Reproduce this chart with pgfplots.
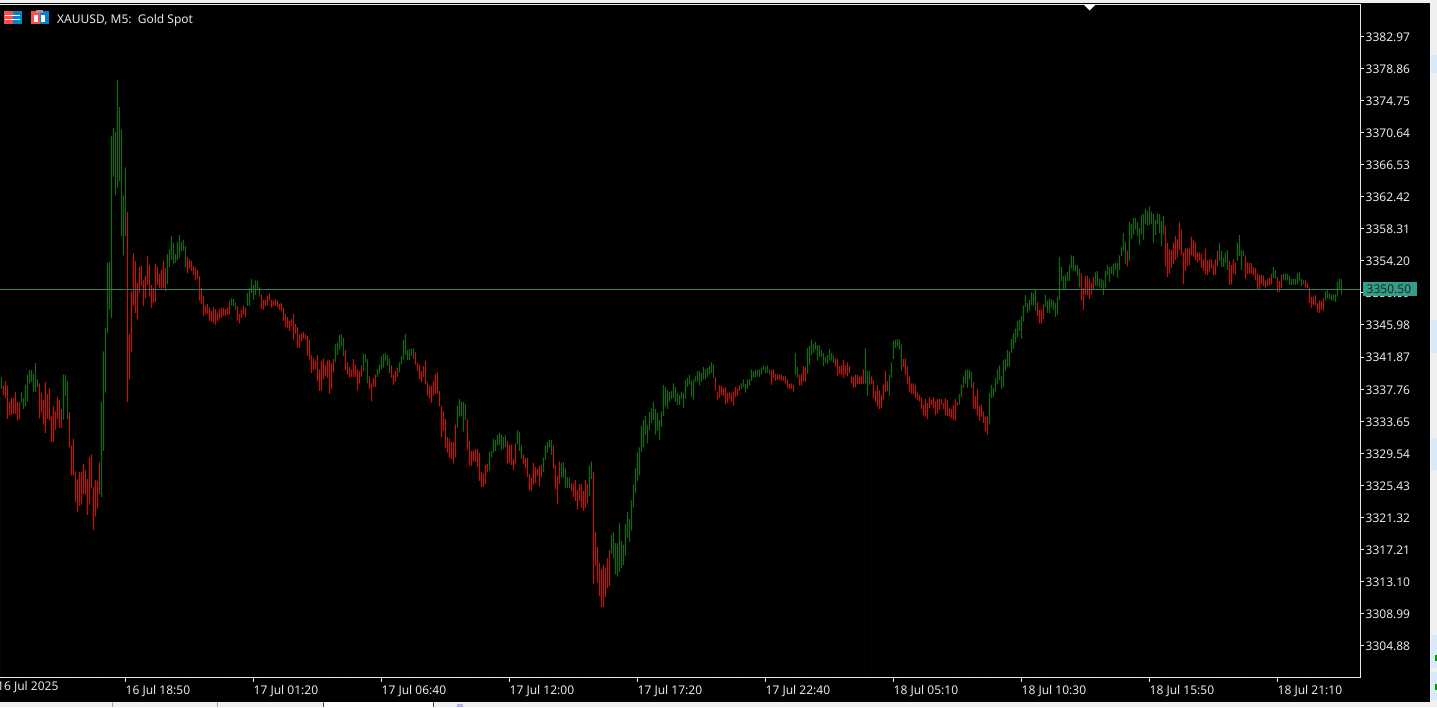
\documentclass[border=0pt]{standalone}
\usepackage{fontspec}
\setmainfont{Noto Sans}
\usepackage{pgfplots}
\usepackage{pgfplotstable}
\pgfplotsset{compat=1.18}
\definecolor{upbar}{RGB}{8,112,8}
\definecolor{downbar}{RGB}{204,14,14}
\definecolor{bidline}{RGB}{48,158,136}
\definecolor{bidthin}{RGB}{38,128,108}
\definecolor{axisgrey}{RGB}{232,232,232}
\definecolor{chrome}{RGB}{240,240,240}
\definecolor{btn}{RGB}{214,234,250}
\newcommand{\chartfont}{\fontsize{12}{14}\selectfont}

% bars: index, low, high
\pgfplotstableread{
x low high
0 3337.8 3339.3
10 3336.0 3337.4
11 3335.2 3336.6
12 3335.5 3338.3
13 3336.2 3339.6
14 3338.5 3340.2
15 3338.7 3340.2
16 3337.4 3339.7
17 3337.4 3341.1
18 3338.0 3339.0
31 3333.8 3339.6
32 3336.9 3339.6
33 3333.9 3338.8
50 3323.9 3336.1
51 3329.8 3342.6
52 3337.3 3345.6
53 3344.9 3353.9
54 3347.9 3354.1
55 3346.9 3370.2
56 3365.0 3371.2
57 3362.6 3370.7
58 3363.5 3377.4
59 3364.4 3373.9
60 3357.4 3371.0
61 3354.9 3362.6
62 3357.4 3366.2
83 3351.2 3355.1
84 3353.4 3355.7
85 3354.3 3357.4
86 3353.8 3356.5
87 3353.9 3355.1
88 3354.3 3356.6
89 3354.6 3357.5
90 3355.5 3356.7
91 3355.5 3356.9
92 3353.4 3356.1
115 3348.5 3349.4
116 3348.4 3349.3
117 3347.9 3348.8
123 3348.4 3350.1
124 3348.4 3350.7
125 3350.1 3351.9
126 3349.2 3351.1
127 3349.8 3351.7
128 3350.6 3351.6
129 3349.6 3350.8
167 3341.2 3343.5
168 3342.1 3343.7
169 3342.8 3344.7
170 3343.2 3344.8
171 3342.0 3344.3
181 3340.1 3342.3
182 3341.2 3342.3
183 3338.5 3341.6
188 3339.3 3340.3
189 3339.7 3340.9
190 3340.3 3342.0
191 3340.5 3342.3
192 3341.4 3342.4
193 3340.7 3342.1
194 3339.8 3341.7
199 3339.9 3341.2
200 3340.9 3342.0
201 3341.5 3344.1
202 3342.1 3344.8
203 3341.5 3342.8
204 3341.5 3342.9
205 3342.0 3342.9
206 3341.6 3343.0
228 3332.8 3335.6
229 3334.2 3336.5
230 3334.3 3336.2
231 3332.3 3336.1
232 3333.8 3335.9
244 3327.3 3329.7
245 3329.0 3329.8
246 3329.6 3331.4
247 3329.8 3331.2
248 3330.5 3331.9
249 3330.6 3332.1
250 3329.9 3331.9
251 3330.1 3331.6
252 3330.3 3331.9
258 3330.7 3332.5
259 3329.8 3332.3
260 3328.8 3330.6
271 3327.1 3329.0
272 3328.7 3330.5
273 3329.6 3331.0
274 3330.3 3331.2
275 3329.3 3331.2
280 3326.4 3328.3
281 3326.4 3328.4
282 3325.1 3327.6
283 3325.1 3326.5
284 3325.1 3326.4
294 3324.0 3327.9
295 3326.2 3328.5
305 3316.6 3319.1
306 3316.0 3319.4
307 3314.0 3318.0
308 3313.7 3318.0
309 3314.3 3320.6
310 3314.8 3318.3
311 3315.2 3317.8
312 3316.4 3320.5
313 3318.7 3322.0
314 3318.2 3321.1
315 3319.6 3323.5
316 3322.6 3325.5
317 3324.4 3327.6
318 3326.0 3329.6
319 3326.7 3330.3
320 3329.7 3333.0
321 3330.3 3333.8
322 3331.9 3334.3
323 3330.8 3333.2
324 3332.5 3334.8
325 3333.4 3335.3
326 3333.8 3336.1
327 3331.9 3335.2
328 3332.4 3334.7
329 3331.2 3333.8
330 3332.9 3334.9
331 3334.3 3338.3
332 3335.5 3338.0
333 3335.2 3337.6
334 3336.1 3337.4
335 3336.5 3337.5
336 3336.6 3338.5
337 3336.1 3338.0
338 3335.7 3337.3
339 3335.7 3337.0
340 3336.5 3337.4
341 3335.3 3337.3
342 3336.5 3338.9
343 3338.0 3339.2
344 3338.3 3339.6
345 3336.7 3338.8
346 3336.4 3339.0
347 3338.7 3339.4
348 3338.7 3340.1
349 3338.2 3340.1
350 3338.7 3339.8
351 3339.0 3340.6
352 3339.0 3340.3
353 3339.3 3340.5
354 3339.6 3340.7
355 3339.8 3341.2
356 3339.2 3340.9
370 3337.8 3338.5
371 3338.0 3339.0
372 3337.3 3338.4
373 3337.8 3339.0
374 3338.2 3339.0
375 3338.8 3340.3
376 3339.2 3340.0
377 3339.3 3340.2
378 3339.4 3340.2
379 3339.3 3340.3
380 3339.6 3340.5
381 3340.2 3340.8
382 3339.8 3340.6
383 3339.8 3340.8
384 3339.7 3340.3
397 3339.6 3342.4
398 3339.2 3340.6
403 3339.7 3343.0
404 3340.8 3343.3
405 3342.1 3344.1
406 3342.4 3343.5
407 3342.8 3343.8
408 3341.4 3343.4
409 3341.9 3343.4
410 3341.9 3342.8
411 3340.7 3342.4
412 3341.2 3341.9
413 3341.0 3342.1
414 3341.4 3342.9
415 3341.4 3342.4
416 3341.1 3342.1
432 3338.5 3343.0
433 3336.9 3340.1
434 3338.3 3340.1
444 3336.9 3339.6
445 3339.2 3341.2
446 3341.6 3343.9
447 3343.0 3344.1
448 3343.2 3344.2
449 3342.8 3344.1
450 3340.1 3343.5
479 3335.8 3337.1
480 3336.7 3338.3
481 3337.9 3339.4
482 3338.5 3340.2
483 3337.9 3340.3
484 3339.0 3340.2
485 3337.9 3340.0
494 3333.2 3337.3
495 3336.6 3338.3
496 3336.7 3337.9
497 3337.4 3339.2
498 3338.4 3340.3
499 3338.9 3340.8
500 3337.8 3339.4
501 3338.0 3341.5
502 3340.1 3341.6
503 3340.6 3342.8
504 3340.7 3342.6
505 3342.4 3344.2
506 3342.9 3344.9
507 3343.7 3345.5
508 3344.4 3346.5
509 3345.2 3346.6
510 3344.2 3347.1
511 3346.4 3348.5
512 3348.3 3349.8
513 3347.5 3348.8
514 3347.8 3349.2
515 3348.5 3350.2
516 3348.5 3350.1
517 3347.8 3350.6
522 3348.3 3349.8
523 3347.5 3349.1
524 3347.5 3349.3
525 3348.2 3349.3
526 3347.9 3349.1
527 3347.0 3348.8
528 3347.3 3349.6
529 3349.2 3354.7
530 3351.6 3353.4
531 3350.5 3352.3
532 3350.5 3352.4
533 3351.6 3352.8
534 3351.6 3353.7
535 3353.2 3354.9
536 3352.9 3354.8
537 3352.8 3353.7
538 3352.3 3353.7
539 3350.8 3353.2
547 3351.0 3352.8
548 3351.0 3352.9
549 3350.8 3351.9
550 3350.7 3351.9
551 3349.8 3351.7
552 3350.7 3352.9
553 3352.4 3353.7
554 3351.5 3353.4
555 3352.5 3353.5
556 3352.3 3353.8
557 3353.0 3353.9
558 3352.0 3353.9
559 3353.0 3354.9
560 3354.8 3356.0
561 3355.5 3357.8
562 3353.8 3356.6
564 3354.2 3359.2
565 3357.0 3358.9
566 3357.5 3359.7
567 3358.2 3359.7
568 3357.4 3359.2
569 3356.2 3358.4
570 3357.6 3360.1
571 3356.9 3360.2
572 3358.9 3360.9
573 3358.7 3360.6
574 3358.8 3361.2
575 3358.9 3360.5
576 3356.5 3360.2
577 3357.5 3359.4
578 3358.9 3360.3
579 3357.8 3360.2
580 3356.1 3359.3
581 3357.6 3360.0
609 3354.2 3356.5
610 3353.4 3355.5
611 3353.4 3354.6
612 3353.9 3355.3
613 3353.0 3355.6
618 3354.2 3356.5
619 3354.8 3357.5
620 3353.0 3355.6
621 3354.8 3355.5
636 3352.0 3353.4
637 3351.9 3353.0
641 3351.7 3352.5
642 3351.7 3352.6
643 3351.7 3352.5
644 3351.1 3352.3
645 3351.1 3351.9
646 3351.2 3351.9
647 3351.1 3351.9
648 3351.2 3352.6
649 3351.6 3352.8
650 3351.0 3351.9
651 3351.2 3351.7
662 3349.1 3350.3
663 3349.4 3350.6
664 3349.3 3350.1
665 3349.1 3349.9
666 3349.1 3349.9
667 3348.9 3349.9
668 3349.6 3351.5
669 3350.5 3351.9
670 3349.9 3351.9
}\upbars

\pgfplotstableread{
x low high
1 3337.0 3338.2
2 3336.6 3338.8
3 3333.9 3338.2
4 3334.4 3336.1
5 3334.4 3336.7
6 3334.6 3336.6
7 3334.6 3337.4
8 3333.7 3336.1
9 3333.9 3336.1
19 3334.0 3338.5
20 3334.7 3337.3
21 3333.2 3336.4
22 3332.1 3338.7
23 3333.9 3337.1
24 3333.7 3337.9
25 3331.0 3334.3
26 3331.0 3335.6
27 3332.5 3334.9
28 3333.9 3336.7
29 3332.8 3336.4
30 3332.8 3335.2
34 3330.3 3334.8
35 3326.7 3330.5
36 3326.7 3331.4
37 3323.3 3327.2
38 3322.0 3326.2
39 3322.8 3327.1
40 3322.9 3327.1
41 3324.3 3328.2
42 3324.2 3327.4
43 3321.6 3326.2
44 3322.9 3329.0
45 3325.1 3329.4
46 3319.7 3325.2
47 3321.4 3326.1
48 3322.4 3326.0
49 3324.3 3328.4
63 3336.1 3360.5
64 3339.0 3344.8
65 3342.5 3350.3
66 3348.4 3355.2
67 3347.5 3354.2
68 3346.7 3351.4
69 3350.1 3353.4
70 3351.0 3353.6
71 3348.4 3351.7
72 3349.4 3352.3
73 3351.1 3354.8
74 3349.6 3353.7
75 3348.2 3351.1
76 3348.8 3350.7
77 3348.9 3353.8
78 3351.1 3353.5
79 3350.7 3352.5
80 3350.6 3353.0
81 3350.7 3354.2
82 3350.3 3353.3
93 3352.6 3354.7
94 3353.2 3354.4
95 3352.9 3354.2
96 3352.4 3353.5
97 3351.7 3353.3
98 3351.9 3353.0
99 3349.1 3352.3
100 3348.7 3350.7
101 3347.1 3349.7
102 3347.3 3348.4
103 3347.4 3348.7
104 3346.5 3348.2
105 3346.4 3347.8
106 3346.2 3348.3
107 3346.0 3348.0
108 3346.4 3347.6
109 3346.7 3348.0
110 3346.9 3348.2
111 3347.1 3348.2
112 3347.1 3348.0
113 3347.3 3348.2
114 3347.3 3349.1
118 3346.5 3348.4
119 3346.2 3347.4
120 3346.9 3347.9
121 3347.3 3348.5
122 3347.0 3348.2
130 3348.0 3349.9
131 3347.9 3349.2
132 3348.4 3349.2
133 3348.5 3349.7
134 3349.1 3350.1
135 3348.2 3349.2
136 3348.4 3349.1
137 3348.4 3349.3
138 3348.2 3349.1
139 3347.9 3348.7
140 3347.8 3348.8
141 3346.5 3348.2
142 3345.7 3347.4
143 3345.6 3347.0
144 3345.2 3346.5
145 3345.8 3346.7
146 3344.1 3347.4
147 3344.8 3346.1
148 3343.0 3345.7
149 3343.0 3344.7
150 3343.8 3344.9
151 3344.2 3345.1
152 3344.1 3344.8
153 3342.0 3344.6
154 3341.5 3344.1
155 3339.8 3342.1
156 3340.2 3341.7
157 3340.3 3341.4
158 3338.8 3342.1
159 3337.5 3340.3
160 3337.6 3341.4
161 3339.0 3341.7
162 3339.4 3340.8
163 3339.2 3341.4
164 3337.1 3341.5
165 3337.8 3341.1
166 3339.9 3341.6
172 3340.2 3342.8
173 3339.6 3341.2
174 3339.2 3340.6
175 3339.3 3340.3
176 3339.3 3341.6
177 3339.3 3340.9
178 3337.6 3340.3
179 3338.5 3340.1
180 3339.3 3340.8
184 3337.8 3339.4
185 3336.2 3338.5
186 3338.0 3339.2
187 3338.0 3339.6
195 3339.2 3340.8
196 3338.3 3339.6
197 3338.7 3340.1
198 3339.3 3340.5
207 3340.9 3342.5
208 3340.1 3341.2
209 3339.0 3340.9
210 3338.7 3340.1
211 3339.3 3340.7
212 3338.4 3341.4
213 3336.9 3338.7
214 3336.6 3338.2
215 3336.0 3338.2
216 3336.9 3338.8
217 3337.1 3339.7
218 3337.1 3339.9
219 3335.5 3337.5
220 3331.6 3335.6
221 3332.4 3334.9
222 3330.2 3333.9
223 3329.6 3331.6
224 3328.9 3331.4
225 3328.8 3331.0
226 3328.2 3331.0
227 3329.0 3333.2
233 3329.9 3333.9
234 3327.9 3331.1
235 3327.9 3329.8
236 3328.5 3329.8
237 3328.4 3330.1
238 3327.8 3330.1
239 3326.0 3329.6
240 3325.2 3327.1
241 3325.2 3326.9
242 3325.6 3328.0
243 3327.1 3328.2
253 3328.2 3331.1
254 3328.3 3330.6
255 3328.0 3330.6
256 3327.4 3328.8
257 3328.2 3330.8
261 3328.2 3329.4
262 3327.6 3328.9
263 3326.5 3328.9
264 3324.8 3326.9
265 3324.7 3326.4
266 3325.5 3328.3
267 3325.7 3327.8
268 3326.6 3327.5
269 3325.3 3327.9
270 3326.5 3328.0
276 3327.5 3330.5
277 3324.9 3328.0
278 3323.0 3326.7
279 3325.6 3328.5
285 3324.7 3325.7
286 3323.9 3325.6
287 3323.4 3326.1
288 3322.3 3324.8
289 3323.4 3325.6
290 3322.5 3325.6
291 3322.1 3324.7
292 3322.5 3326.1
293 3323.1 3325.6
296 3312.8 3327.1
297 3315.1 3319.4
298 3312.9 3317.5
299 3311.2 3315.5
300 3309.8 3314.6
301 3309.8 3315.2
302 3311.1 3314.9
303 3312.2 3316.1
304 3312.5 3317.1
357 3337.6 3339.3
358 3336.4 3337.4
359 3336.6 3338.3
360 3337.0 3338.2
361 3336.9 3337.9
362 3335.8 3338.0
363 3336.0 3337.3
364 3336.5 3337.3
365 3336.1 3337.3
366 3335.6 3337.4
367 3336.7 3338.0
368 3336.9 3337.9
369 3337.5 3338.3
385 3338.3 3340.2
386 3339.2 3340.3
387 3338.8 3339.7
388 3338.9 3339.7
389 3339.0 3339.6
390 3338.8 3339.6
391 3338.8 3339.4
392 3338.5 3339.4
393 3337.9 3339.0
394 3337.8 3338.4
395 3337.8 3338.5
396 3337.4 3338.3
399 3338.2 3339.6
400 3338.2 3339.7
401 3338.8 3340.7
402 3338.7 3340.6
417 3340.7 3341.7
418 3339.4 3341.6
419 3339.7 3340.7
420 3339.6 3340.8
421 3339.2 3341.5
422 3339.6 3340.8
423 3339.4 3341.2
424 3339.8 3340.7
425 3338.5 3339.4
426 3337.9 3339.3
427 3338.0 3339.6
428 3338.4 3339.6
429 3338.4 3339.3
430 3338.4 3339.4
431 3338.4 3340.3
435 3338.4 3339.4
436 3336.6 3338.9
437 3336.1 3337.5
438 3335.5 3338.3
439 3335.2 3337.6
440 3335.3 3337.0
441 3336.4 3338.3
442 3337.4 3340.1
443 3337.5 3338.8
451 3340.6 3341.6
452 3339.6 3341.7
453 3338.4 3340.7
454 3337.4 3339.4
455 3337.1 3338.5
456 3337.1 3338.5
457 3336.6 3338.3
458 3336.4 3337.3
459 3336.2 3337.0
460 3335.2 3336.7
461 3334.4 3335.7
462 3334.2 3336.5
463 3333.9 3336.0
464 3335.3 3336.7
465 3335.7 3336.4
466 3335.3 3336.7
467 3334.4 3336.2
468 3334.6 3336.5
469 3335.2 3336.5
470 3335.8 3336.5
471 3335.2 3336.0
472 3334.4 3336.6
473 3334.3 3336.4
474 3334.2 3335.3
475 3334.0 3335.2
476 3333.8 3335.7
477 3333.7 3336.5
478 3335.6 3336.1
486 3335.2 3338.7
487 3335.2 3336.9
488 3334.4 3337.8
489 3333.7 3335.6
490 3334.2 3335.8
491 3333.4 3334.9
492 3332.3 3334.2
493 3331.9 3334.3
518 3347.1 3348.9
519 3346.2 3347.9
520 3346.2 3347.9
521 3346.7 3348.7
540 3349.1 3352.6
541 3347.9 3350.7
542 3349.9 3352.3
543 3349.8 3352.3
544 3349.3 3351.9
545 3349.9 3351.4
546 3350.5 3352.1
563 3353.5 3355.5
582 3353.5 3358.7
583 3352.1 3356.5
584 3352.5 3355.7
585 3353.3 3355.6
586 3353.8 3356.5
587 3354.3 3357.4
588 3354.6 3357.0
589 3355.6 3359.2
590 3354.9 3358.2
591 3351.2 3355.3
592 3352.9 3355.8
593 3353.5 3355.8
594 3353.7 3355.8
595 3354.9 3357.3
596 3354.7 3356.9
597 3354.3 3356.6
598 3354.0 3355.3
599 3354.2 3355.3
600 3353.3 3355.1
601 3352.9 3354.4
602 3352.5 3355.8
603 3352.4 3354.3
604 3352.8 3354.4
605 3353.2 3354.4
606 3352.4 3353.7
607 3352.4 3354.4
608 3353.5 3355.5
614 3351.1 3354.2
615 3351.2 3353.7
616 3352.6 3354.4
617 3352.4 3354.0
622 3351.9 3354.9
623 3352.5 3354.0
624 3352.5 3353.9
625 3352.5 3353.9
626 3352.3 3353.4
627 3351.7 3353.3
628 3350.5 3352.6
629 3350.6 3352.4
630 3351.2 3352.4
631 3351.0 3352.3
632 3350.8 3351.7
633 3351.0 3351.9
634 3351.1 3352.0
635 3351.2 3352.5
638 3350.2 3352.1
639 3350.2 3351.6
640 3350.7 3352.4
652 3350.8 3351.7
653 3350.7 3351.4
654 3348.8 3350.8
655 3348.2 3349.6
656 3348.5 3349.6
657 3348.5 3349.8
658 3347.6 3348.8
659 3347.5 3349.1
660 3347.9 3349.1
661 3347.8 3349.4
}\downbars

\begin{document}
\begin{tikzpicture}
\path[use as bounding box] (0pt,0pt) rectangle (1437pt,707pt);
\clip (0pt,0pt) rectangle (1437pt,707pt);
% window around the chart
\fill[chrome] (0pt,0pt) rectangle (1437pt,707pt);
\fill[black] (0pt,5pt) rectangle (1430pt,704.3pt);
\fill[white] (323pt,0pt) rectangle (433pt,5pt);
\draw[black!70,line width=1pt] (323.5pt,0pt) -- (323.5pt,5pt) (433.5pt,0pt) -- (433.5pt,5pt);
\draw[black!35,line width=1pt] (112pt,0pt) -- (112pt,5pt) (217pt,0pt) -- (217pt,5pt);
\fill[white!70!blue] (457pt,0pt) rectangle (463pt,3pt);
\foreach \a/\b in {634/652,354/387,237/269,39/72,7/35} \fill[btn] (1431pt,\a pt) rectangle (1437pt,\b pt);
\fill[green!60!black] (1435pt,46pt) rectangle (1437pt,52pt);
\fill[green!60!black] (1435pt,17pt) rectangle (1437pt,23pt);
\begin{axis}[
  at={(-1.5pt,29.5pt)}, anchor=south west,
  scale only axis, width=1362pt, height=673pt,
  xmin=-1.5, xmax=679.5,
  ymin=3300.78, ymax=3387.07,
  clip=false, axis on top,
  axis line style={draw=axisgrey,line width=1pt},
  tick style={draw=axisgrey,line width=1pt},
  major tick length=4pt, tick align=outside,
  xtick pos=bottom, ytick pos=right,
  ytick={3382.97,3378.86,3374.75,3370.64,3366.53,3362.42,3358.31,3354.20,3350.09,3345.98,3341.87,3337.76,3333.65,3329.54,3325.43,3321.32,3317.21,3313.10,3308.99,3304.88},
  xtick={62,126,190,254,318,382,446,510,574,638},
  xticklabels={16 Jul 18:50,17 Jul 01:20,17 Jul 06:40,17 Jul 12:00,17 Jul 17:20,17 Jul 22:40,18 Jul 05:10,18 Jul 10:30,18 Jul 15:50,18 Jul 21:10},
  tick label style={font=\chartfont,text=axisgrey},
  yticklabel pos=right,
  yticklabel style={anchor=west,inner xsep=0pt,xshift=1pt,yshift=-0.7pt,
    /pgf/number format/.cd,fixed,fixed zerofill,precision=2,1000 sep={},assume math mode=true},
  xticklabel style={anchor=north west,inner xsep=0pt,inner ysep=0pt,yshift=-3.5pt},
]
% each bar rises from the axis floor to its high, then a wider black bar covers it up to its low
\addplot[ybar,bar width=1pt,bar shift=0pt,fill=downbar,draw=none] table[x=x,y=high] {\downbars};
\addplot[ybar,bar width=1pt,bar shift=0pt,fill=upbar,draw=none] table[x=x,y=high] {\upbars};
\addplot[ybar,bar width=1.7pt,bar shift=0pt,fill=black,draw=none] table[x=x,y=low] {\downbars};
\addplot[ybar,bar width=1.7pt,bar shift=0pt,fill=black,draw=none] table[x=x,y=low] {\upbars};
\addplot[fill=bidthin,draw=none] coordinates {(-1.5,3350.465) (679.5,3350.465) (679.5,3350.59) (-1.5,3350.59)} -- cycle;
\end{axis}
% first date label, half outside the window
\node[anchor=north west,inner sep=0pt,font=\chartfont,text=axisgrey] at (-3pt,26pt) {16 Jul 2025};
% bid price label
\fill[bidline] (1363pt,411pt) rectangle (1417pt,425pt);
\node[anchor=base west,inner sep=0pt,font=\chartfont,text=black!85] at (1366.5pt,413.5pt) {3350.50};
% scroll marker
\fill[white] (1083.5pt,702.5pt) -- (1095.5pt,702.5pt) -- (1089.5pt,696.5pt) -- cycle;
% title and its two icons
\node[anchor=base west,inner sep=0pt,font=\chartfont,text=axisgrey] at (57pt,683.5pt) {XAUUSD, M5:\ \ Gold Spot};
\fill[red!70!white] (3.5pt,683pt) rectangle (12.5pt,696pt);
\fill[blue!35!cyan!80!black] (12.5pt,683pt) rectangle (21.5pt,696pt);
\draw[white,line width=1pt] (5pt,687pt) -- (20pt,687pt) (5pt,691pt) -- (20pt,691pt);
\fill[red!70!white] (30.5pt,683pt) rectangle (39.5pt,696pt);
\fill[blue!35!cyan!80!black] (39.5pt,683pt) rectangle (49pt,696pt);
\fill[white] (34pt,685pt) rectangle (38pt,692pt);
\fill[white] (41pt,685pt) rectangle (45pt,692pt);
\fill[black!40] (36pt,694pt) rectangle (43pt,697pt);
\end{tikzpicture}
\end{document}
